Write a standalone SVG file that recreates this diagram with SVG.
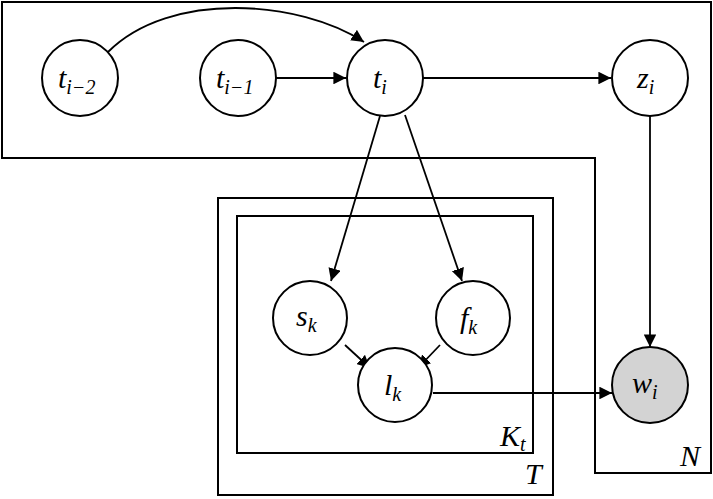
<svg xmlns="http://www.w3.org/2000/svg" width="713" height="499" viewBox="0 0 713 499">
<style>
.n{fill:#fff;stroke:#000;stroke-width:2}
.p{fill:none;stroke:#000;stroke-width:2}
.e{fill:none;stroke:#000;stroke-width:1.8;marker-end:url(#a)}
text{font-family:"Liberation Serif",serif;font-style:italic;font-size:30px}
.s{font-size:20px}
</style>
<defs><marker id="a" viewBox="0 0 10 10" refX="10" refY="5" markerWidth="7" markerHeight="7" orient="auto"><path d="M0,0L10,5L0,10z"/></marker></defs>
<g id="plates">
<path class="p" d="M2,2H711V473H595V158H2Z"/>
<rect class="p" x="218" y="198" width="335" height="297"/>
<rect class="p" x="237" y="216" width="296" height="237"/>
<text x="500" y="446" font-size="26">K<tspan class="s" dy="5">t</tspan></text>
<text x="525" y="484" font-size="26">T</text>
<text x="680" y="466" font-size="26">N</text>
</g>
<g id="edges">
<path class="e" d="M108,52C170,-10 300,0 364,42"/>
<path class="e" d="M276,78H346"/>
<path class="e" d="M423,78H611"/>
<path class="e" d="M380,116L331,281"/>
<path class="e" d="M405,115L462,281"/>
<path class="e" d="M345,345L370,368"/>
<path class="e" d="M440,345L418,368"/>
<path class="e" d="M433,393H612"/>
<path class="e" d="M650,116V347"/>
</g>
<g id="t2"><circle class="n" cx="80" cy="78" r="38"/><text x="58" y="88">t<tspan class="s" dy="6">i−2</tspan></text></g>
<g id="t1"><circle class="n" cx="238" cy="78" r="38"/><text x="216" y="88">t<tspan class="s" dy="6">i−1</tspan></text></g>
<g id="ti"><circle class="n" cx="385" cy="78" r="38"/><text x="373" y="88">t<tspan class="s" dy="6">i</tspan></text></g>
<g id="zi"><circle class="n" cx="650" cy="78" r="38"/><text x="637" y="88">z<tspan class="s" dy="6">i</tspan></text></g>
<g id="sk"><circle class="n" cx="310" cy="318" r="37"/><text x="296" y="326">s<tspan class="s" dy="6">k</tspan></text></g>
<g id="fk"><circle class="n" cx="473" cy="318" r="37"/><text x="460" y="328">f<tspan class="s" dy="6">k</tspan></text></g>
<g id="lk"><circle class="n" cx="395" cy="385" r="37"/><text x="384" y="395">l<tspan class="s" dy="6">k</tspan></text></g>
<g id="wi"><circle class="n" cx="650" cy="385" r="38" fill="#d3d3d3" style="fill:#d3d3d3"/><text x="632" y="393">w<tspan class="s" dy="6">i</tspan></text></g>
</svg>
